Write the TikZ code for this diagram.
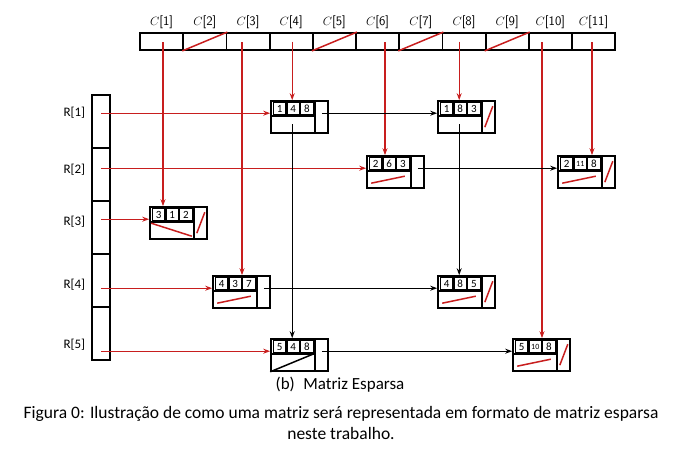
\documentclass[tikz,border=0pt]{standalone}
\usepackage{fontspec}
\setmainfont{Carlito}
\usetikzlibrary{arrows.meta, positioning, calc}

\definecolor{linkred}{RGB}{200,30,30}

\tikzset{
  elembox/.style={draw, line width=1.6pt, minimum width=57pt, minimum height=32pt, inner sep=0pt},
  cellbox/.style={draw, line width=1.2pt, minimum width=12.5pt, minimum height=12pt, inner sep=0pt, font=\fontsize{11}{11}\selectfont},
  redlink/.style={linkred, line width=1.3pt, -{Stealth[length=7pt, width=5pt]}},
  blklink/.style={black, line width=1.3pt, -{Stealth[length=7pt, width=5pt]}},
  nullred/.style={linkred, line width=1.5pt},
}

% element of the sparse matrix: name, left x, top y, row, col, value
\newcommand{\elem}[6]{%
  \node[elembox] (#1) at (#2+28.5,#3+16) {};
  \node[cellbox, anchor=north west] (#1-a) at ($(#1.north west)+(2.5,2)$) {#4};
  \node[cellbox, right=0pt of #1-a] (#1-b) {#5};
  \node[cellbox, right=0pt of #1-b] (#1-c) {#6};
  \draw[line width=1.6pt] ($(#1.north east)+(-14,0)$) -- ($(#1.south east)+(-14,0)$);
  \draw[line width=1.6pt] ($(#1.north west)+(0,16)$) -- ($(#1.north east)+(-14,16)$);
  \coordinate (#1-in) at ($(#1.north west)+(0,13)$);
  \coordinate (#1-out) at ($(#1.north east)+(-7,13)$);
  \coordinate (#1-dn) at ($(#1.north west)+(22,24)$);
}
\newcommand{\nullright}[1]{\draw[nullred] ($(#1.north east)+(-3,6)$) -- ($(#1.north east)+(-11,27)$);}
\newcommand{\nulldown}[1]{\draw[nullred] ($(#1.north west)+(5,28)$) -- ($(#1.north east)+(-20,21)$);}

\begin{document}
\begin{tikzpicture}[x=1pt, y=-1pt]
\useasboundingbox (0,0) rectangle (681,463);

% column heads
\foreach \i in {1,...,11} {
  \node[draw, line width=1.8pt, minimum width=43.2pt, minimum height=17pt, inner sep=0pt]
    (C\i) at (140+43.2*\i-21.6, 41.5) {};
  \node[font=\fontsize{13}{13}\selectfont\sffamily] at (C\i.north) [above=0pt] {$C$[\i]};
}
\foreach \i in {2,5,7,9}
  \draw[nullred] (C\i.south west) -- (C\i.north east);

% row heads
\foreach \i in {1,...,5} {
  \node[draw, line width=2.5pt, minimum width=18pt, minimum height=53pt, inner sep=0pt]
    (R\i) at (101, 95+53*\i-26.5) {};
}
\foreach \i/\y in {1/113, 2/170, 3/222, 4/285, 5/345}
  \node[left=2pt, font=\fontsize{13}{13}\selectfont] at (R\i.west |- 0,\y) {R[\i]};

% elements
\elem{e148}{271}{101}{1}{4}{8}
\elem{e183}{438}{101}{1}{8}{3}
\elem{e263}{367}{156}{2}{6}{3}
\elem{e2118}{558}{156}{2}{\footnotesize 11}{8}
\elem{e312}{150}{207}{3}{1}{2}
\elem{e437}{213}{276}{4}{3}{7}
\elem{e485}{438}{276}{4}{8}{5}
\elem{e548}{271}{339}{5}{4}{8}
\elem{e5108}{513}{339}{5}{\footnotesize 10}{8}

% null links
\nullright{e183} \nullright{e2118} \nullright{e312} \nullright{e485} \nullright{e5108}
\nulldown{e263} \nulldown{e2118} \nulldown{e437} \nulldown{e485} \nulldown{e5108}
\draw[nullred] ($(e312.north west)+(2,17)$) -- ($(e312.north east)+(-16,30)$);
\draw[line width=1.5pt] (e548.south west) -- ($(e548.north east)+(-16,16)$);

% row links
\draw[redlink] (R1.center |- e148-in) -- (e148-in);
\draw[redlink] (R2.center |- e263-in) -- (e263-in);
\draw[redlink] (R3.center |- e312-in) -- (e312-in);
\draw[redlink] (R4.center |- e437-in) -- (e437-in);
\draw[redlink] (R5.center |- e548-in) -- (e548-in);

% column links
\draw[redlink] (163,42) -- (163,0 |- e312.north);
\draw[redlink] (242,42) -- (242,0 |- e437.north);
\draw[redlink] (e148-dn |- C4.center) -- (e148-dn |- e148.north);
\draw[redlink] (385,42) -- (385,0 |- e263.north);
\draw[redlink] (e183-dn |- C8.center) -- (e183-dn |- e183.north);
\draw[redlink] (542,42) -- (542,0 |- e5108.north);
\draw[redlink] (592,42) -- (592,0 |- e2118.north);

% next in row
\draw[blklink] (e148-out) -- (e183-in);
\draw[blklink] (e263-out) -- (e2118-in);
\draw[blklink] (e437-out) -- (e485-in);
\draw[blklink] (e548-out) -- (e5108-in);

% next in column
\draw[blklink] (e148-dn) -- (e148-dn |- e548.north);
\draw[blklink] (e183-dn) -- (e183-dn |- e485.north);

% caption
\node[font=\fontsize{17}{20}\selectfont] (sub) at (340,385) {(b)\enspace Matriz Esparsa};
\node[font=\fontsize{17.5}{21}\selectfont, align=center] (cap) at (341,423)
  {Figura 0: Ilustração de como uma matriz será representada em formato de matriz esparsa\\neste trabalho.};
\end{tikzpicture}
\end{document}
